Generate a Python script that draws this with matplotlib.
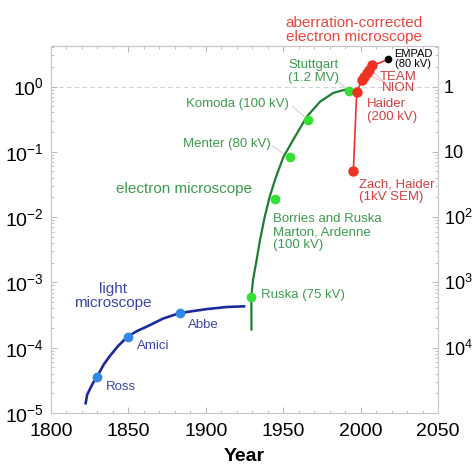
import numpy as np
import matplotlib
matplotlib.use("Agg")
import matplotlib.pyplot as plt
import matplotlib.ticker as mticker

plt.rcParams['font.family'] = ['Liberation Sans', 'DejaVu Sans']
plt.rcParams['mathtext.fontset'] = 'custom'
plt.rcParams['mathtext.rm'] = 'Liberation Sans'
plt.rcParams['mathtext.it'] = 'Liberation Sans:italic'
plt.rcParams['mathtext.bf'] = 'Liberation Sans:bold'

# light microscope curve and milestones
light_curve_year = [1822.4, 1823.3, 1825.2, 1827.2, 1829.5, 1834.2, 1838.1, 1843.3,
                    1849.5, 1855.6, 1861.8, 1872.5, 1883.3, 1900.6, 1913.5, 1924.7]
light_curve_res = [1.41e-5, 1.89e-5, 2.34e-5, 2.9e-5, 3.5e-5, 5.6e-5, 7.5e-5, 1.06e-4,
                   1.48e-4, 1.8e-4, 2.1e-4, 2.8e-4, 3.4e-4, 3.9e-4, 4.2e-4, 4.3e-4]
light_pts_year = [1829.5, 1849.5, 1883.3]
light_pts_res = [3.5e-5, 1.48e-4, 3.4e-4]
light_names = ['Ross', 'Amici', 'Abbe']

# electron microscope curve and milestones
em_curve_year = [1929.5, 1929.4, 1930.5, 1932.8, 1935.0, 1937.9, 1941.2, 1945.3,
                 1950.1, 1957.6, 1965.2, 1973.8, 1982.4, 1991.0, 1993.1]
em_curve_res = [1.9e-4, 6.0e-4, 1.09e-3, 2.2e-3, 4.46e-3, 9.7e-3, 0.0203, 0.0411,
                0.0832, 0.170, 0.345, 0.585, 0.80, 0.906, 0.884]
em_pts_year = [1929.2, 1944.7, 1954.4, 1965.8, 1992.5]
em_pts_res = [6.0e-4, 0.019, 0.083, 0.31, 0.86]

# aberration-corrected
ac_year = [1995.3, 1997.5, 2001.0, 2002.5, 2004.0, 2005.5, 2007.5]
ac_res = [0.050, 0.83, 1.25, 1.42, 1.6, 1.8, 2.1]
empad_year = 2018.0
empad_res = 2.6

yticks_right = [1, 0.1, 0.01, 1e-3, 1e-4]
yticklabels_right = ['1', '10', '$10^2$', '$10^3$', '$10^4$']

blue_line = '#1b2b9c'
blue_pt = '#3589e6'
blue_txt = '#3b45a8'
green_line = '#1f7d2f'
green_pt = '#33e033'
green_txt = '#3d9a50'
red = '#ee3322'
red_txt = '#d04040'
spine_c = '#c8c8c8'

fig = plt.figure(figsize=(4.74, 4.74), dpi=100)
ax = fig.add_axes([0.1076, 0.1287, 0.8165, 0.7732])

ax.axhline(1.0, color='#d0d0d0', lw=0.8, ls=(0, (4, 3)), zorder=0)

ax.plot(light_curve_year, light_curve_res, color=blue_line, lw=1.9, zorder=2)
ax.plot(light_pts_year, light_pts_res, 'o', color=blue_pt, ms=6, zorder=3)

ax.plot(em_curve_year, em_curve_res, color=green_line, lw=1.6, zorder=2)
ax.plot(em_pts_year, em_pts_res, 'o', color=green_pt, ms=6, zorder=3)

ax.plot(ac_year + [empad_year], ac_res + [empad_res], color=red, lw=1.2, zorder=2)
ax.plot(ac_year, ac_res, 'o', color=red, ms=6.5, zorder=4)
ax.plot([empad_year], [empad_res], 'o', color='black', ms=4.5, zorder=5)

# leader lines
for (x0, y0), (x1, y1) in [((1955.7, 0.50), (1963.4, 0.35)),
                           ((1942.8, 0.123), (1951.8, 0.089)),
                           ((1984.1, 1.26), (1990.6, 0.95))]:
    ax.plot([x0, x1], [y0, y1], color='#c4c4c4', lw=0.6, zorder=1)
ax.plot([2015.5, 2008.0], [1.15, 1.7], color='#f0b0b0', lw=0.6, zorder=1)
ax.plot([2015.5, 2005.0], [1.15, 1.5], color='#f0b0b0', lw=0.6, zorder=1)

fs = 9.5
ax.text(1995.7, 7.3, 'aberration-corrected\nelectron microscope', color='#e8473c',
        fontsize=11, ha='center', va='center', linespacing=1.05, clip_on=False)
ax.text(2033.9, 2.64, 'EMPAD\n(80 kV)', color='black', fontsize=8,
        ha='center', va='center', linespacing=1.05, clip_on=False)
ax.text(2024.5, 1.15, 'TEAM\nNION', color=red_txt, fontsize=fs,
        ha='center', va='center', linespacing=0.95)
ax.text(2004.1, 0.43, 'Haider\n(200 kV)', color=red_txt, fontsize=fs,
        ha='left', va='center', linespacing=1.1)
ax.text(1999.2, 0.0251, 'Zach, Haider\n(1kV SEM)', color=red_txt, fontsize=fs,
        ha='left', va='center', linespacing=1.1, clip_on=False)
ax.text(1969.6, 1.685, 'Stuttgart\n(1.2 MV)', color=green_txt, fontsize=fs,
        ha='center', va='center', linespacing=1.1)
ax.text(1920.5, 0.54, 'Komoda (100 kV)', color=green_txt, fontsize=fs,
        ha='center', va='center')
ax.text(1913.4, 0.1316, 'Menter (80 kV)', color=green_txt, fontsize=fs,
        ha='center', va='center')
ax.text(1886.2, 0.0267, 'electron microscope', color=green_txt, fontsize=11,
        ha='center', va='center')
ax.text(1943.6, 5.9e-3, 'Borries and Ruska\nMarton, Ardenne\n(100 kV)',
        color=green_txt, fontsize=fs, ha='left', va='center', linespacing=1.1)
ax.text(1935.5, 6.4e-4, 'Ruska (75 kV)', color=green_txt, fontsize=fs,
        ha='left', va='center')
ax.text(1840.1, 6.2e-4, 'light\nmicroscope', color=blue_txt, fontsize=11,
        ha='center', va='center', linespacing=1.05)
for name, x, y in zip(light_names, [1845.0, 1866.3, 1898.6],
                      [2.53e-5, 1.06e-4, 2.23e-4]):
    ax.text(x, y, name, color=blue_txt, fontsize=fs, ha='center', va='center')

ax.set_yscale('log')
ax.set_xlim(1800, 2050)
ax.set_ylim(1e-5, 4.1)
ax.xaxis.set_major_locator(mticker.MultipleLocator(50))
ax.xaxis.set_minor_locator(mticker.MultipleLocator(10))
ax.yaxis.set_major_locator(mticker.LogLocator(base=10, numticks=10))
ax.yaxis.set_minor_locator(mticker.LogLocator(base=10, subs=np.arange(2, 10), numticks=20))
ax.tick_params(which='both', direction='in', color='#b8b8b8', labelsize=14,
               top=True)
ax.tick_params(which='major', length=4, width=0.7)
ax.tick_params(which='minor', length=2.5, width=0.6)
ax.tick_params(axis='y', pad=5)
ax.tick_params(axis='x', pad=7)
for s in ax.spines.values():
    s.set_color(spine_c)
    s.set_linewidth(0.8)
ax.set_xlabel('Year', fontsize=14, fontweight='bold', labelpad=6)

ax2 = ax.twinx()
ax2.set_yscale('log')
ax2.set_ylim(ax.get_ylim())
ax2.yaxis.set_major_locator(mticker.FixedLocator(yticks_right))
ax2.yaxis.set_major_formatter(mticker.FixedFormatter(yticklabels_right))
ax2.yaxis.set_minor_locator(mticker.LogLocator(base=10, subs=np.arange(2, 10), numticks=20))
ax2.tick_params(which='both', direction='in', color='#b8b8b8', labelsize=13, pad=4)
ax2.tick_params(which='major', length=4, width=0.7)
ax2.tick_params(which='minor', length=2.5, width=0.6)
for s in ax2.spines.values():
    s.set_color(spine_c)
    s.set_linewidth(0.8)

fig.savefig('out.png', dpi=100)
